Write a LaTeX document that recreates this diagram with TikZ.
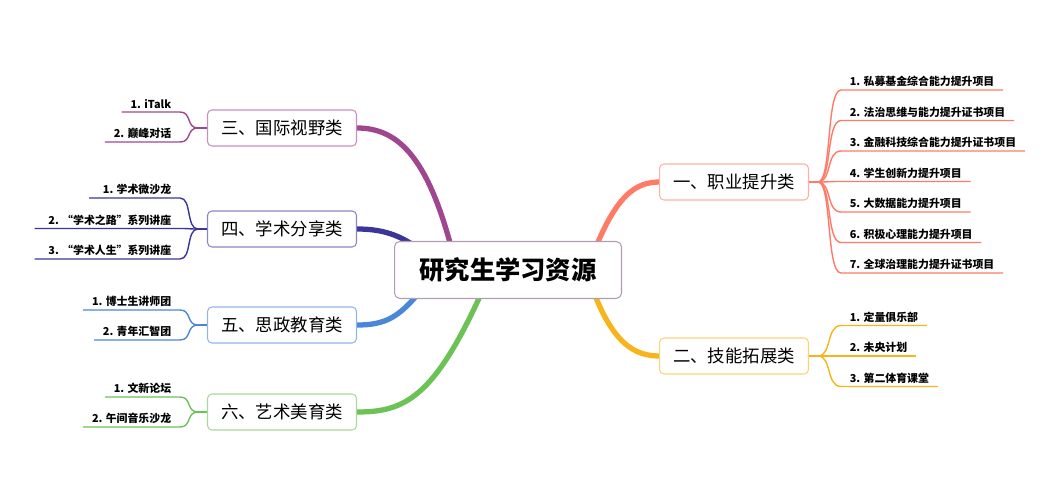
\documentclass[tikz,border=0pt]{standalone}
\usepackage{fontspec}
\newfontfamily\cjk{Noto Sans CJK SC}
\usetikzlibrary{positioning}
\definecolor{cOne}{HTML}{FF7B68}
\definecolor{cTwo}{HTML}{F6B51C}
\definecolor{cThree}{HTML}{A0468F}
\definecolor{cFour}{HTML}{3B3599}
\definecolor{cFive}{HTML}{4A86DA}
\definecolor{cSix}{HTML}{6DC255}
\tikzset{
  topic/.style={draw=#1!60, fill=white, rounded corners=2.5pt, line width=.6pt,
    minimum width=2.98cm, minimum height=.72cm, inner sep=0pt, font=\cjk\fontsize{9.9}{11}\selectfont},
  leaf/.style={inner xsep=.17cm, inner ysep=1.5pt, font=\cjk\bfseries\fontsize{6.2}{7}\selectfont},
  branch/.style={draw=#1, line width=3pt, line cap=round},
  twig/.style={draw=#1, line width=.8pt}
}
\begin{document}
\begin{tikzpicture}[x=0.02cm,y=-0.02cm]
\useasboundingbox (0,0) rectangle (1060,479);
% main branches
\draw[branch=cOne] (590,262) .. controls (615,195) and (635,182) .. (660,182);
\draw[branch=cTwo] (590,282) .. controls (612,345) and (635,356) .. (660,356);
\draw[branch=cThree] (455,262) .. controls (430,160) and (400,128) .. (357,128);
\draw[branch=cFour] (430,258) .. controls (405,236) and (385,229) .. (357,229);
\draw[branch=cFive] (425,285) .. controls (400,318) and (385,325) .. (357,325);
\draw[branch=cSix] (485,285) .. controls (435,398) and (405,412) .. (357,412);
% nodes
\node[draw=gray!70!violet!60, fill=white, rounded corners=3pt, line width=.6pt,
  minimum width=4.54cm, minimum height=1.14cm, font=\cjk\bfseries\fontsize{14.4}{16}\selectfont]
  (root) at (508,270) {研究生学习资源};
\node[topic=cOne] (n1) at (734,182) {一、职业提升类};
\node[topic=cTwo] (n2) at (734,356) {二、技能拓展类};
\node[topic=cThree] (n3) at (282,128) {三、国际视野类};
\node[topic=cFour] (n4) at (282,229) {四、学术分享类};
\node[topic=cFive] (n5) at (282,325) {五、思政教育类};
\node[topic=cSix] (n6) at (282,412) {六、艺术美育类};
% junctions
\coordinate (j1) at (818,182);
\coordinate (j2) at (818,356);
\coordinate (j3) at (198,128);
\coordinate (j4) at (198,229);
\coordinate (j5) at (198,325);
\coordinate (j6) at (198,412);
\draw[twig=cOne] (n1.east) -- (j1);
\draw[twig=cTwo] (n2.east) -- (j2);
\draw[twig=cThree] (n3.west) -- (j3);
\draw[twig=cFour] (n4.west) -- (j4);
\draw[twig=cFive] (n5.west) -- (j5);
\draw[twig=cSix] (n6.west) -- (j6);
% right leaves
\foreach \t [count=\i] in {1. 私募基金综合能力提升项目, 2. 法治思维与能力提升证书项目,
  3. 金融科技综合能力提升证书项目, 4. 学生创新力提升项目, 5. 大数据能力提升项目,
  6. 积极心理能力提升项目, 7. 全球治理能力提升证书项目}{
  \pgfmathsetmacro\y{90+30.5*(\i-1)}
  \node[leaf, anchor=south west] (a\i) at (841,\y) {\t};
  \draw[twig=cOne] (j1) .. controls (832,182) and (826,\y) .. (a\i.south west) -- (a\i.south east);
}
\foreach \t [count=\i] in {1. 定量俱乐部, 2. 未央计划, 3. 第二体育课堂}{
  \pgfmathsetmacro\y{325.5+30.5*(\i-1)}
  \node[leaf, anchor=south west] (b\i) at (841,\y) {\t};
  \draw[twig=cTwo] (j2) .. controls (832,356) and (826,\y) .. (b\i.south west) -- (b\i.south east);
}
% left leaves
\foreach \t [count=\i] in {1. iTalk, 2. 巅峰对话}{
  \pgfmathsetmacro\y{112+30*(\i-1)}
  \node[leaf, anchor=south east] (c\i) at (180,\y) {\t};
  \draw[twig=cThree] (j3) .. controls (186,128) and (192,\y) .. (c\i.south east) -- (c\i.south west);
}
\foreach \t [count=\i] in {1. 学术微沙龙, 2. “学术之路”系列讲座, 3. “学术人生”系列讲座}{
  \pgfmathsetmacro\y{198+30.5*(\i-1)}
  \node[leaf, anchor=south east] (d\i) at (180,\y) {\t};
  \draw[twig=cFour] (j4) .. controls (186,229) and (192,\y) .. (d\i.south east) -- ([xshift=-.1cm]d\i.south west);
}
\foreach \t [count=\i] in {1. 博士生讲师团, 2. 青年汇智团}{
  \pgfmathsetmacro\y{310+30*(\i-1)}
  \node[leaf, anchor=south east] (e\i) at (180,\y) {\t};
  \draw[twig=cFive] (j5) .. controls (186,325) and (192,\y) .. (e\i.south east) -- (e\i.south west);
}
\foreach \t [count=\i] in {1. 文新论坛, 2. 午间音乐沙龙}{
  \pgfmathsetmacro\y{397+30*(\i-1)}
  \node[leaf, anchor=south east] (f\i) at (180,\y) {\t};
  \draw[twig=cSix] (j6) .. controls (186,412) and (192,\y) .. (f\i.south east) -- (f\i.south west);
}
\end{tikzpicture}
\end{document}
